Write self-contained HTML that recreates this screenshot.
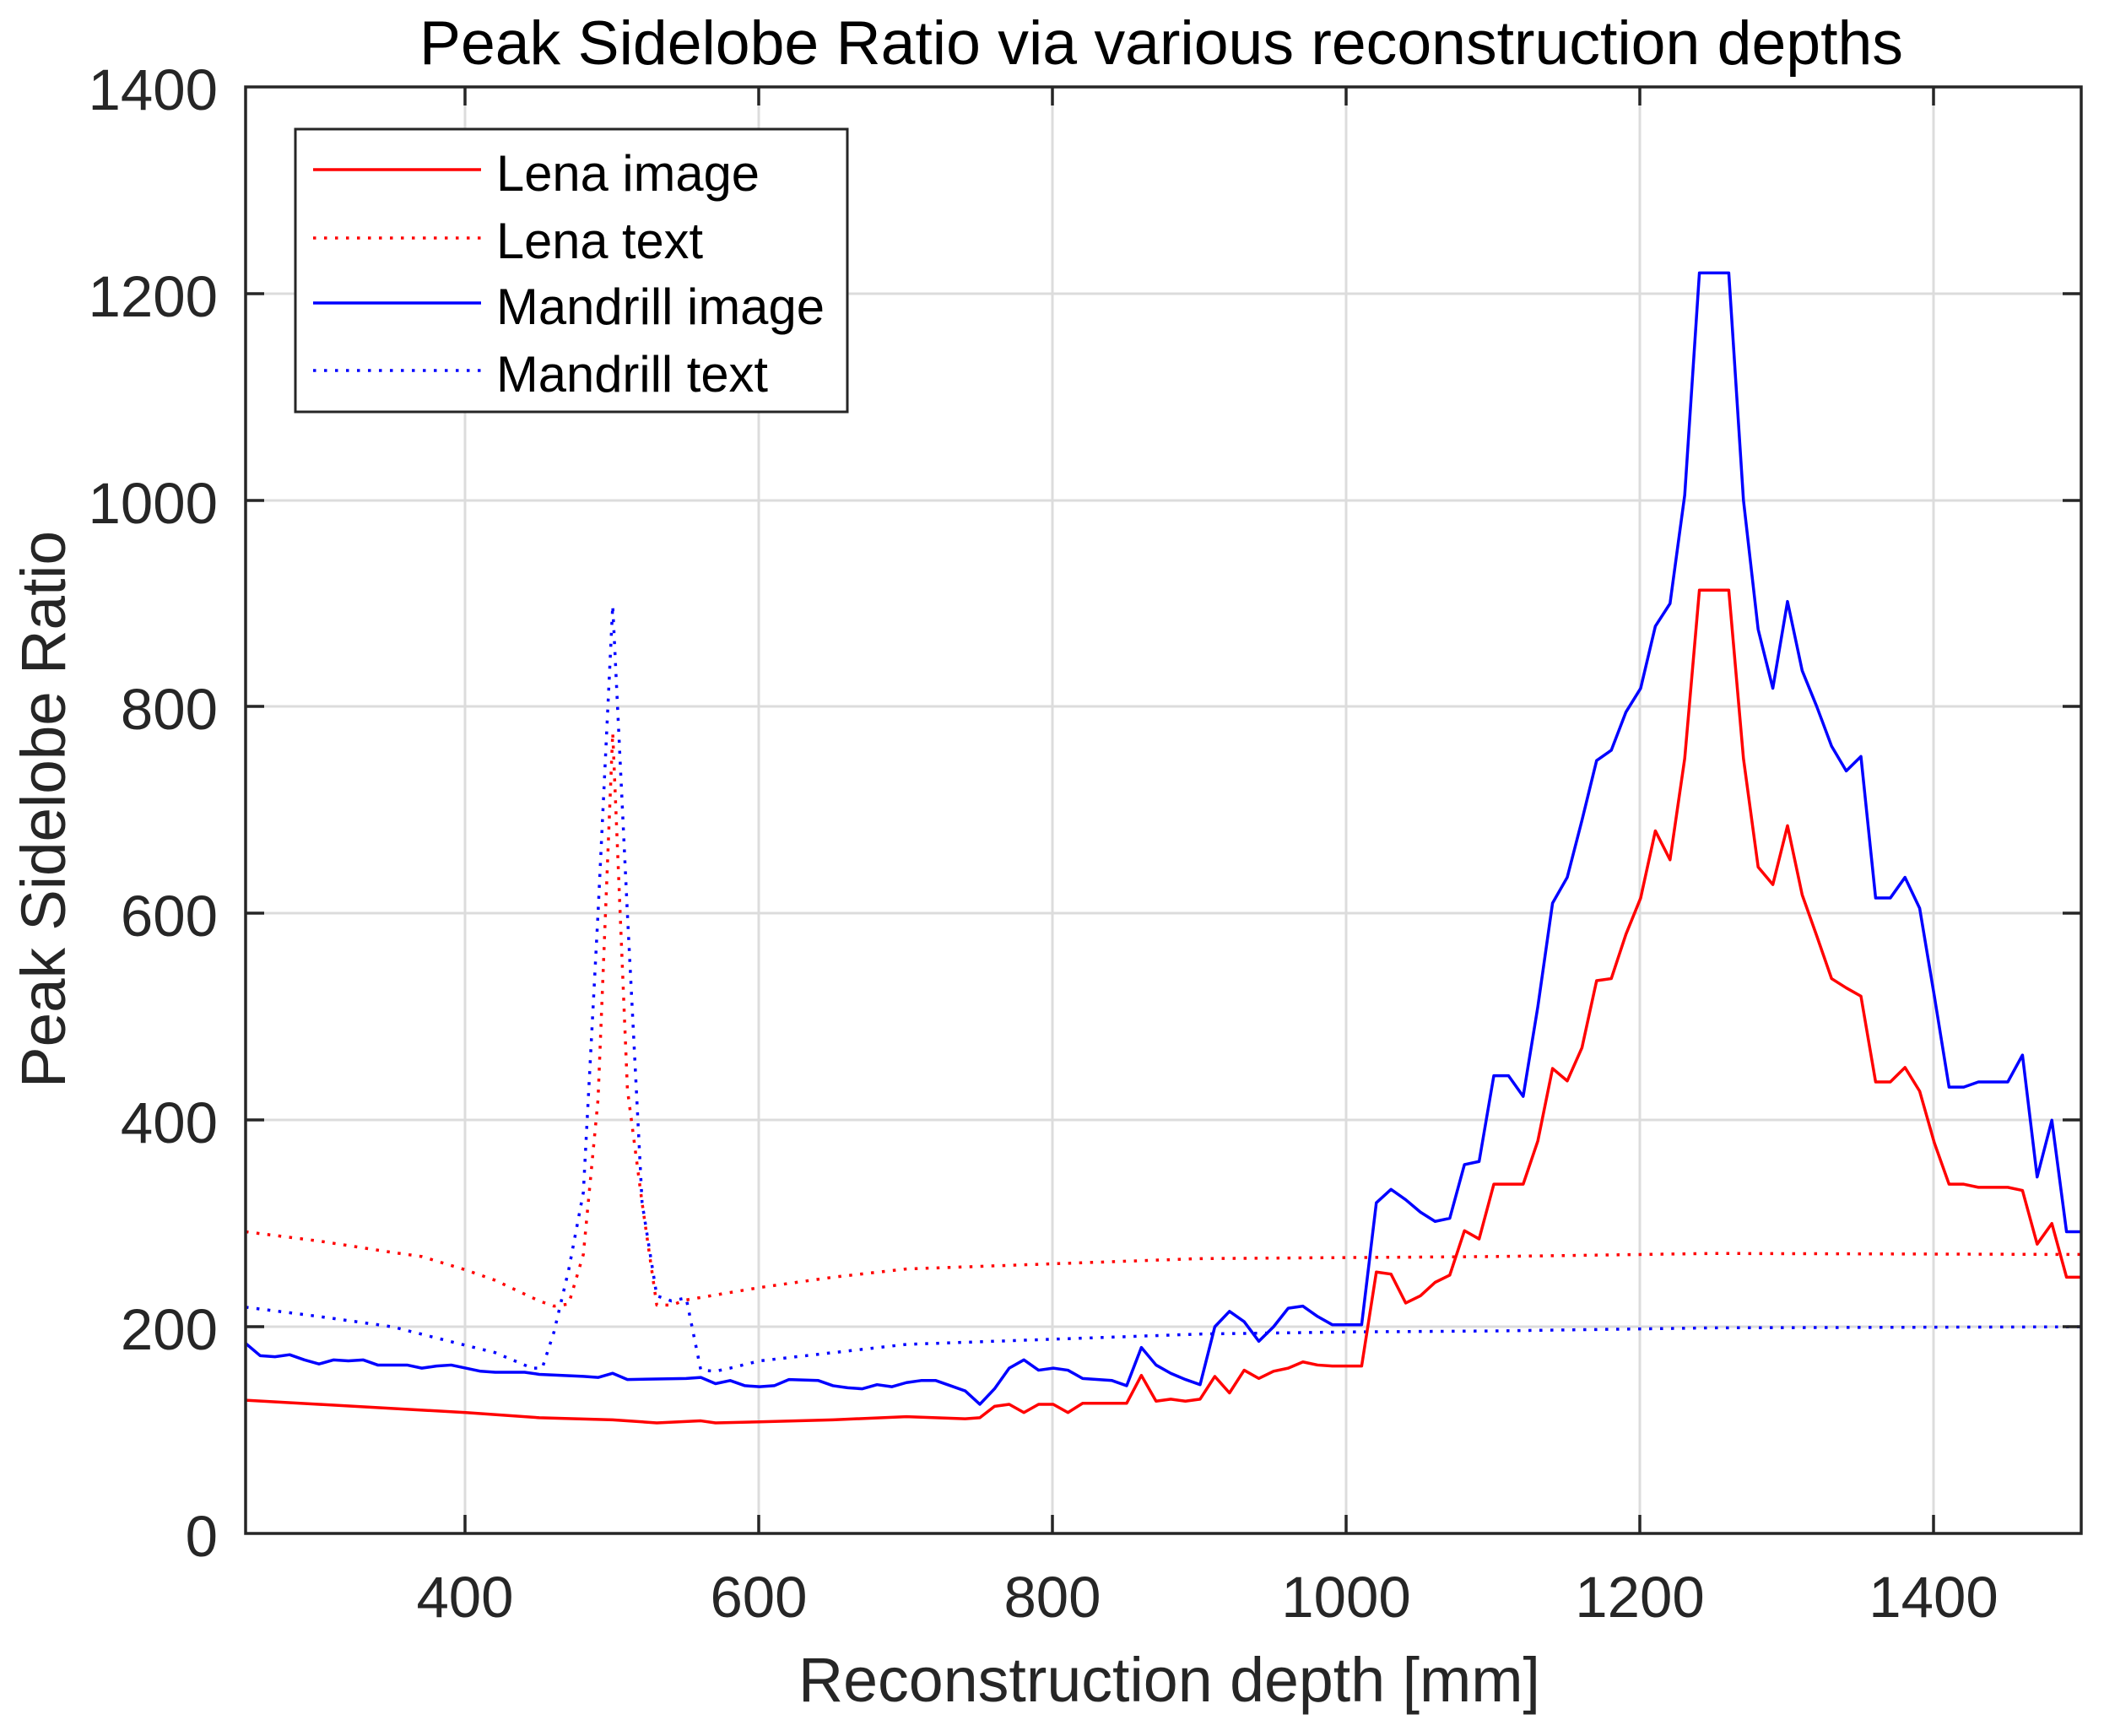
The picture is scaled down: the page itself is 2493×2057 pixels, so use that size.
<!DOCTYPE html>
<html><head><meta charset="utf-8"><style>html,body{margin:0;padding:0;background:#fff}svg{display:block}</style></head>
<body>
<svg width="2493" height="2057" viewBox="0 0 2493 2057" xmlns="http://www.w3.org/2000/svg" font-family="Liberation Sans, Arial, sans-serif">
<rect width="2493" height="2057" fill="#fff"/>
<g stroke="#dcdcdc" stroke-width="3">
<line x1="551" y1="103" x2="551" y2="1817"/><line x1="899" y1="103" x2="899" y2="1817"/><line x1="1247" y1="103" x2="1247" y2="1817"/><line x1="1595" y1="103" x2="1595" y2="1817"/><line x1="1943" y1="103" x2="1943" y2="1817"/><line x1="2291" y1="103" x2="2291" y2="1817"/>
<line x1="291" y1="1572" x2="2466" y2="1572"/><line x1="291" y1="1327" x2="2466" y2="1327"/><line x1="291" y1="1082" x2="2466" y2="1082"/><line x1="291" y1="837" x2="2466" y2="837"/><line x1="291" y1="593" x2="2466" y2="593"/><line x1="291" y1="348" x2="2466" y2="348"/>
</g>
<g transform="translate(291,1817) scale(1.74,-1.2243) translate(-250,0)" fill="none" stroke-width="3.5" stroke-linejoin="round">
<polyline vector-effect="non-scaling-stroke" stroke="#ff0000" stroke-dasharray="3.5 9.5" points="250,292 300,283 350,272 370,268 400,255 420,245 450,225 460,220 470,222 480,270 490,420 500,775 510,430 520,320 530,221 540,221 550,226 600,238 650,248 700,256 800,261 900,266 1000,267 1100,268 1200,270 1250,271 1500,270"/>
<polyline vector-effect="non-scaling-stroke" stroke="#0000ff" stroke-dasharray="3.5 9.5" points="250,219 300,210 350,200 400,182 420,175 445,160 452,160 460,195 470,255 480,330 490,600 500,898 510,600 520,320 530,230 540,225 550,228 560,158 570,157 580,160 600,167 650,175 700,183 800,188 900,193 1000,195 1100,196 1200,198 1250,199 1500,200"/>
<polyline vector-effect="non-scaling-stroke" stroke="#ff0000" points="250,129 300,125 400,117 450,112 500,110 530,107 560,109 570,107 600,108 650,110 700,113 740,111 750,112 760,123 770,125 780,117 790,125 800,125 810,117 820,126 850,126 860,153 870,128 880,130 890,128 900,130 910,152 920,136 930,158 940,150 950,157 960,160 970,166 980,163 990,162 1010,162 1020,253 1030,251 1040,223 1050,230 1060,243 1070,250 1080,293 1090,285 1100,338 1120,338 1130,380 1140,450 1150,438 1160,470 1170,535 1180,537 1190,580 1200,615 1210,680 1220,652 1230,750 1240,913 1260,913 1270,750 1280,645 1290,628 1300,685 1310,618 1320,578 1330,537 1340,528 1350,520 1360,437 1370,437 1380,451 1390,428 1400,378 1410,338 1420,338 1430,335 1450,335 1460,332 1470,280 1480,300 1490,248 1500,248"/>
<polyline vector-effect="non-scaling-stroke" stroke="#0000ff" points="250,184 260,172 270,171 280,173 290,168 300,164 310,168 320,167 330,168 340,163 360,163 370,160 380,162 390,163 410,157 420,156 440,156 450,154 480,152 490,151 500,155 510,149 550,150 560,151 570,145 580,148 590,143 600,142 610,143 620,149 640,148 650,143 660,141 670,140 680,144 690,142 700,146 710,148 720,148 730,143 740,138 750,125 760,140 770,160 780,168 790,158 800,160 810,158 820,150 840,148 850,143 860,180 870,163 880,155 890,149 900,144 910,200 920,215 930,205 940,186 950,200 960,218 970,220 980,210 990,202 1010,202 1020,320 1030,333 1040,323 1050,311 1060,302 1070,305 1080,357 1090,360 1100,443 1110,443 1120,423 1130,510 1140,610 1150,635 1160,690 1170,748 1180,758 1190,795 1200,818 1210,878 1220,900 1230,1005 1240,1220 1260,1220 1270,1000 1280,875 1290,818 1300,902 1310,835 1320,800 1330,762 1340,738 1350,752 1360,615 1370,615 1380,635 1390,605 1400,520 1410,432 1420,432 1430,437 1450,437 1460,463 1470,345 1480,400 1490,292 1500,292"/>
</g>
<rect x="291" y="103" width="2175" height="1714" fill="none" stroke="#262626" stroke-width="3.5"/>
<g stroke="#262626" stroke-width="3.5">
<line x1="551" y1="1817" x2="551" y2="1795"/><line x1="899" y1="1817" x2="899" y2="1795"/><line x1="1247" y1="1817" x2="1247" y2="1795"/><line x1="1595" y1="1817" x2="1595" y2="1795"/><line x1="1943" y1="1817" x2="1943" y2="1795"/><line x1="2291" y1="1817" x2="2291" y2="1795"/>
<line x1="551" y1="103" x2="551" y2="125"/><line x1="899" y1="103" x2="899" y2="125"/><line x1="1247" y1="103" x2="1247" y2="125"/><line x1="1595" y1="103" x2="1595" y2="125"/><line x1="1943" y1="103" x2="1943" y2="125"/><line x1="2291" y1="103" x2="2291" y2="125"/>
<line x1="291" y1="1572" x2="313" y2="1572"/><line x1="291" y1="1327" x2="313" y2="1327"/><line x1="291" y1="1082" x2="313" y2="1082"/><line x1="291" y1="837" x2="313" y2="837"/><line x1="291" y1="593" x2="313" y2="593"/><line x1="291" y1="348" x2="313" y2="348"/>
<line x1="2466" y1="1572" x2="2444" y2="1572"/><line x1="2466" y1="1327" x2="2444" y2="1327"/><line x1="2466" y1="1082" x2="2444" y2="1082"/><line x1="2466" y1="837" x2="2444" y2="837"/><line x1="2466" y1="593" x2="2444" y2="593"/><line x1="2466" y1="348" x2="2444" y2="348"/>
</g>
<g fill="#262626" font-size="69" text-anchor="end">
<text x="258" y="1844">0</text><text x="258" y="1599">200</text><text x="258" y="1354">400</text><text x="258" y="1109">600</text><text x="258" y="864">800</text><text x="258" y="620">1000</text><text x="258" y="375">1200</text><text x="258" y="130">1400</text>
</g>
<g fill="#262626" font-size="69" text-anchor="middle">
<text x="551" y="1916">400</text><text x="899" y="1916">600</text><text x="1247" y="1916">800</text><text x="1595" y="1916">1000</text><text x="1943" y="1916">1200</text><text x="2291" y="1916">1400</text>
</g>
<text x="946" y="2016" font-size="74" fill="#262626" textLength="879" lengthAdjust="spacingAndGlyphs">Reconstruction depth [mm]</text>
<text transform="translate(77,1289) rotate(-90)" font-size="74" fill="#262626" textLength="660" lengthAdjust="spacingAndGlyphs">Peak Sidelobe Ratio</text>
<text x="497" y="76" font-size="73" fill="#000" textLength="1758" lengthAdjust="spacingAndGlyphs">Peak Sidelobe Ratio via various reconstruction depths</text>
<rect x="350" y="153" width="654" height="335" fill="#fff" stroke="#262626" stroke-width="3"/>
<g stroke-width="3.5">
<line x1="371" y1="201" x2="570" y2="201" stroke="#ff0000"/>
<line x1="371" y1="282" x2="570" y2="282" stroke="#ff0000" stroke-dasharray="3.5 9.5"/>
<line x1="371" y1="359" x2="570" y2="359" stroke="#0000ff"/>
<line x1="371" y1="439" x2="570" y2="439" stroke="#0000ff" stroke-dasharray="3.5 9.5"/>
</g>
<g font-size="60" fill="#000" lengthAdjust="spacingAndGlyphs">
<text x="588" y="226" textLength="312" lengthAdjust="spacingAndGlyphs">Lena image</text>
<text x="588" y="306" textLength="245" lengthAdjust="spacingAndGlyphs">Lena text</text>
<text x="588" y="384" textLength="389" lengthAdjust="spacingAndGlyphs">Mandrill image</text>
<text x="588" y="464" textLength="322" lengthAdjust="spacingAndGlyphs">Mandrill text</text>
</g>
</svg>
</body></html>
